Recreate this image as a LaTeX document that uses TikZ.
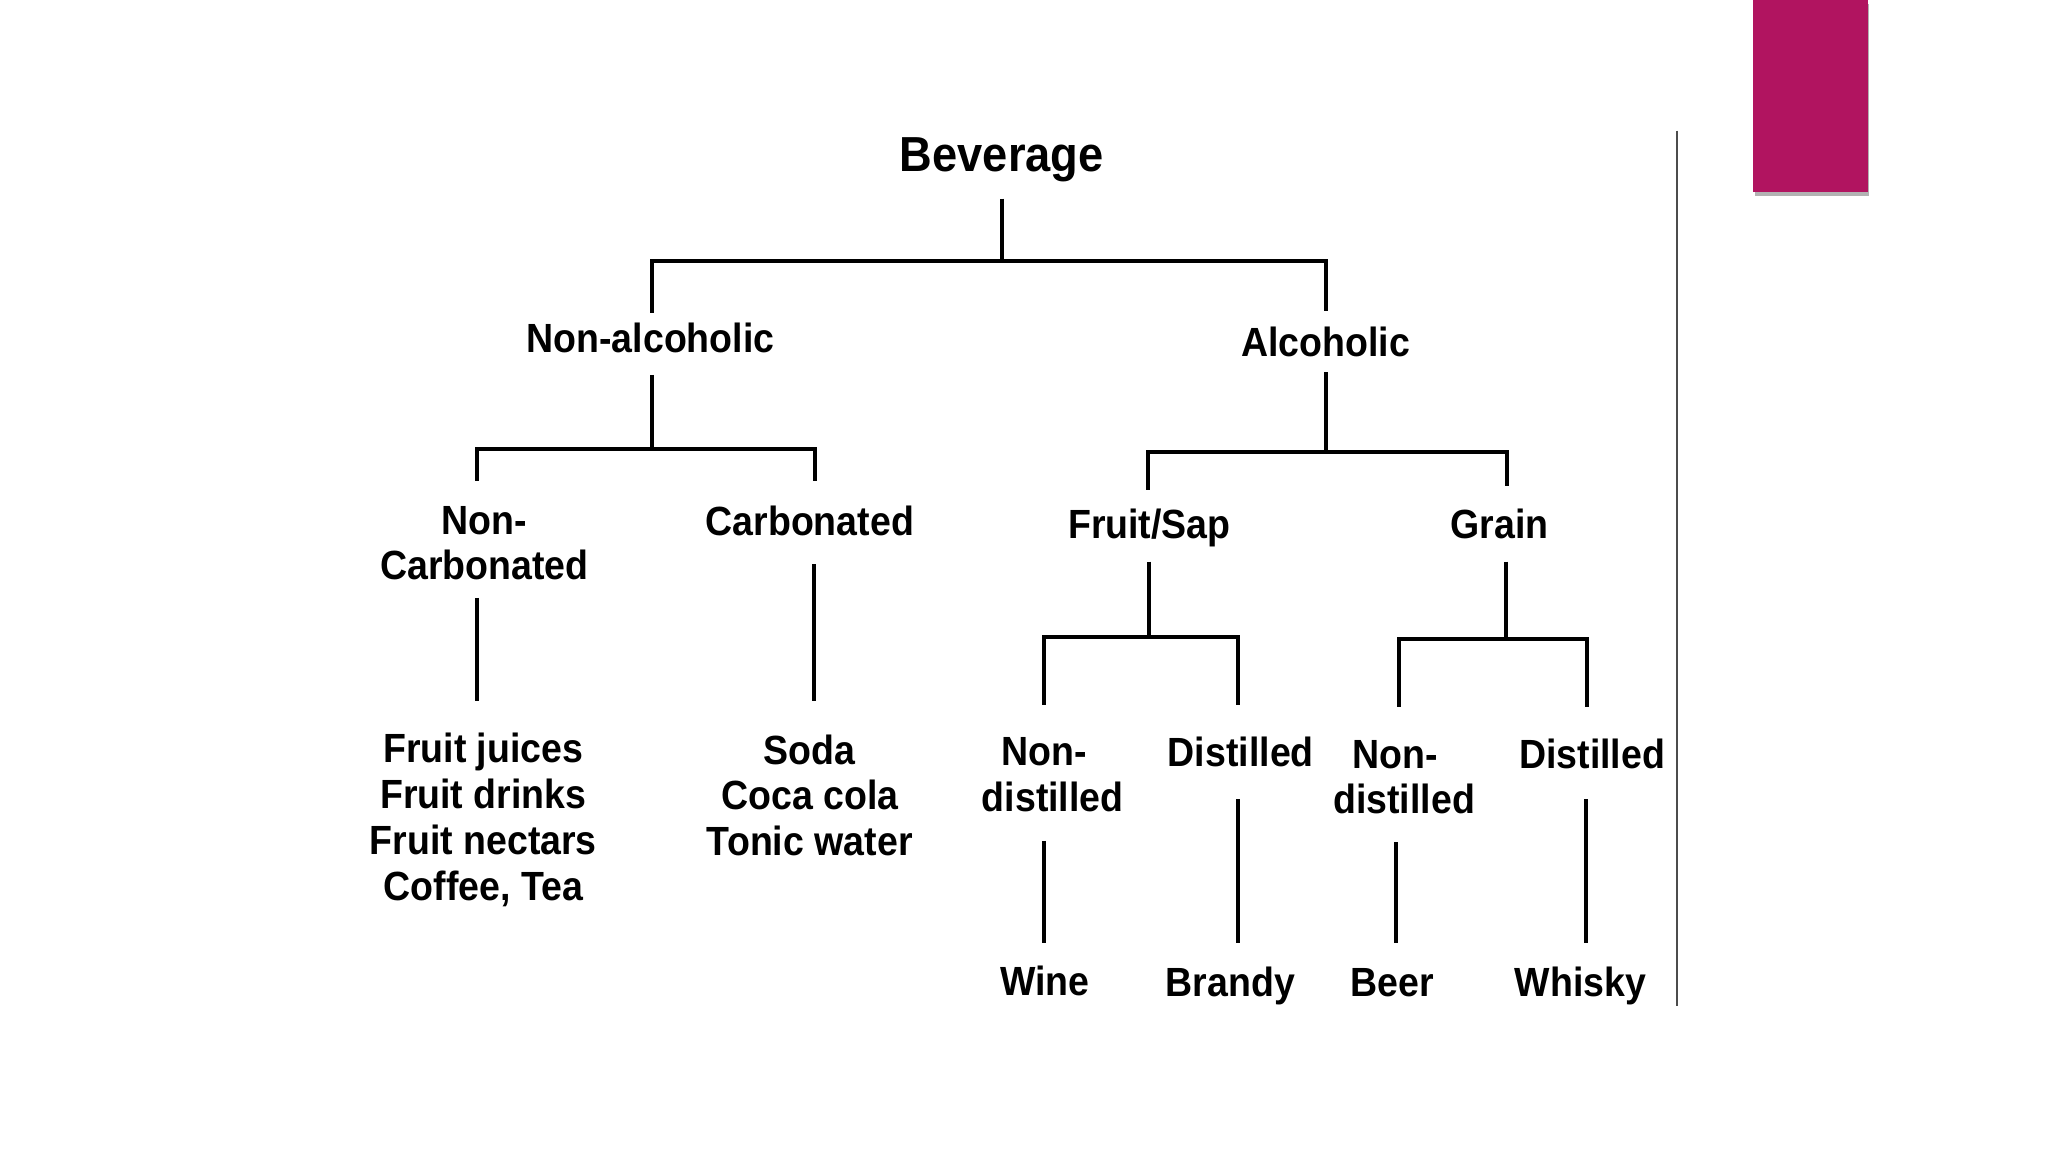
\documentclass[tikz,border=0pt]{standalone}
\usepackage{fontspec}
\setmainfont{Liberation Sans}[FakeStretch=0.92]
\usetikzlibrary{calc}
\definecolor{mag}{HTML}{B11460}
\begin{document}
\begin{tikzpicture}[x=0.013061cm,y=-0.013061cm,
 lbl/.style={inner sep=0pt,anchor=base,font=\fontsize{11.6}{13}\selectfont\bfseries},
 ml/.style={lbl,anchor=north,align=center},
 conn/.style={line width=1.1pt,line cap=butt}]
\useasboundingbox (0,0) rectangle (1568,882);
% accent bar and rule
\fill[black!30] (1344,3) rectangle (1431,150);
\fill[mag] (1342,0) rectangle (1430,147);
\draw[line width=0.5pt,black!70] (1284,100) -- (1284,770);
% nodes
\node[lbl,font=\fontsize{14}{16}\selectfont\bfseries] (bev) at (767,131) {Beverage};
\node[lbl] (na) at (498,270) {Non-alcoholic};
\node[lbl] (alc) at (1015,273) {Alcoholic};
\node[ml] (nc) at (371,387) {Non-\\Carbonated};
\node[lbl] (carb) at (620,410) {Carbonated};
\node[lbl] (fs) at (880,412) {Fruit/Sap};
\node[lbl] (grain) at (1148,412) {Grain};
\node[ml] (fj) at (370,561) {Fruit juices\\Fruit drinks\\Fruit nectars\\Coffee, Tea};
\node[ml] (soda) at (620,562) {Soda\\Coca cola\\Tonic water};
\node[ml] (nd1) at (806,564) {Non-\hspace*{5pt}\\distilled};
\node[lbl] (dist1) at (950,587) {Distilled};
\node[ml] (nd2) at (1075,566) {Non-\hspace*{5pt}\\distilled};
\node[lbl] (dist2) at (1219,588) {Distilled};
\node[lbl] (wine) at (800,762) {Wine};
\node[lbl] (brandy) at (942,763) {Brandy};
\node[lbl] (beer) at (1066,763) {Beer};
\node[lbl] (whisky) at (1210,763) {Whisky};
% connectors
\draw[conn] ($(bev.base)+(0,21)$) -- ++(0,48) coordinate (j0);
\draw[conn] (j0) -| ($(na.base)+(1,-30)$);
\draw[conn] (j0) -| ($(alc.base)+(0,-35)$);
\draw[conn] ($(na.base)+(1,17)$) -- ++(0,57) coordinate (j1);
\draw[conn] (j1) -| ($(nc.north)+(-6,-19)$);
\draw[conn] (j1) -| ($(carb.base)+(4,-42)$);
\draw[conn] ($(nc.south)+(-6,13)$) -- ($(fj.north)+(-5,-24)$);
\draw[conn] ($(carb.base)+(3,22)$) -- ($(soda.north)+(3,-25)$);
\draw[conn] ($(alc.base)+(0,12)$) -- ++(0,61) coordinate (j2);
\draw[conn] (j2) -| ($(fs.base)+(-1,-37)$);
\draw[conn] (j2) -| ($(grain.base)+(6,-40)$);
\draw[conn] ($(fs.base)+(0,18)$) -- ++(0,58) coordinate (j3);
\draw[conn] (j3) -| ($(nd1.north)+(-7,-24)$);
\draw[conn] (j3) -| ($(dist1.base)+(-2,-47)$);
\draw[conn] ($(grain.base)+(5,18)$) -- ++(0,59) coordinate (j4);
\draw[conn] (j4) -| ($(nd2.north)+(-4,-25)$);
\draw[conn] (j4) -| ($(dist2.base)+(-4,-47)$);
\draw[conn] ($(nd1.south)+(-7,22)$) -- ($(wine.base)+(-1,-40)$);
\draw[conn] ($(dist1.base)+(-2,25)$) -- ($(brandy.base)+(6,-41)$);
\draw[conn] ($(nd2.south)+(-6,21)$) -- ($(beer.base)+(3,-41)$);
\draw[conn] ($(dist2.base)+(-5,24)$) -- ($(whisky.base)+(4,-41)$);
\end{tikzpicture}
\end{document}
